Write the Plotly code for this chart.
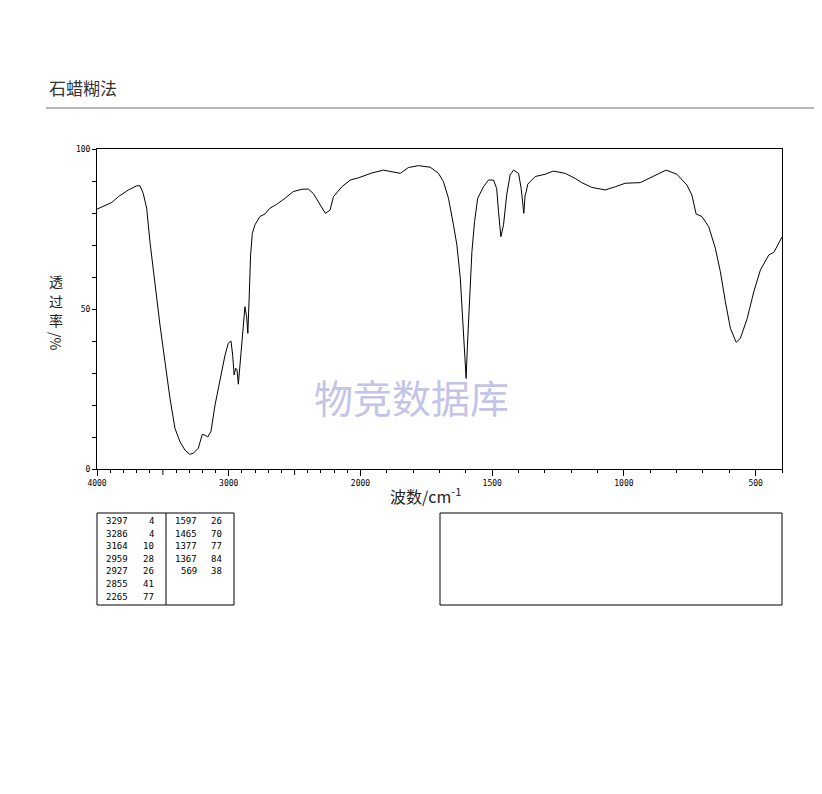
import plotly.graph_objects as go

# ---- data -------------------------------------------------------------
wavenumber = [4000, 3960, 3914, 3888, 3838, 3800, 3762, 3699, 3674, 3649, 3623, 3598, 3560, 3522,
              3484, 3446, 3408, 3370, 3332, 3297, 3269, 3231, 3201, 3180, 3160, 3135, 3104, 3066,
              3028, 3003, 2983, 2970, 2959, 2947, 2937, 2927, 2912, 2897, 2877, 2864, 2855, 2844,
              2834, 2821, 2801, 2763, 2725, 2687, 2636, 2573, 2510, 2446, 2396, 2358, 2307, 2266,
              2231, 2205, 2141, 2078, 2015, 1957, 1913, 1875, 1849, 1818, 1780, 1735, 1704, 1685,
              1666, 1647, 1634, 1621, 1613, 1605, 1599, 1594, 1586, 1577, 1567, 1555, 1533, 1514,
              1495, 1483, 1476, 1467, 1457, 1445, 1432, 1419, 1400, 1390, 1380, 1375, 1371, 1365,
              1337, 1299, 1268, 1223, 1185, 1160, 1122, 1071, 1033, 995, 938, 881, 840, 799, 761,
              742, 726, 704, 678, 653, 634, 615, 596, 574, 558, 532, 507, 482, 450, 431, 415, 400]
transmittance = [81.2, 82.0, 83.0, 83.3, 85.1, 86.2, 87.2, 88.5, 88.5, 86.1, 81.5, 71.0, 57.5, 45.0,
                 33.5, 22.1, 12.7, 8.5, 5.9, 4.6, 4.9, 6.5, 10.8, 10.6, 10.0, 11.7, 20.0, 28.3,
                 35.6, 39.3, 40.0, 35.6, 29.4, 31.5, 31.0, 26.5, 33.5, 42.9, 50.7, 47.6, 42.4, 54.4,
                 66.9, 73.6, 76.3, 78.9, 79.7, 81.5, 82.7, 84.6, 86.7, 87.4, 87.5, 86.1, 82.5, 79.9,
                 80.9, 85.1, 88.2, 90.3, 91.0, 92.5, 93.4, 92.7, 92.4, 94.2, 94.8, 94.3, 92.4, 89.8,
                 84.6, 76.3, 70.0, 59.6, 49.2, 36.7, 28.3, 38.7, 54.4, 67.9, 77.3, 84.6, 88.2, 90.3,
                 90.3, 87.7, 80.4, 72.6, 76.3, 85.6, 91.9, 93.4, 92.4, 87.7, 79.9, 85.6, 86.6, 89.0,
                 91.4, 92.1, 93.1, 92.4, 90.8, 89.5, 88.0, 87.2, 88.2, 89.3, 89.5, 91.9, 93.4, 92.1, 88.75,
                 85.6, 79.7, 78.9, 75.7, 69.0, 61.7, 52.3, 44.0, 39.6, 40.8, 47.1, 55.4, 62.2, 66.9, 67.7, 70.0, 72.5]

x_label_ticks = [4000, 3000, 2000, 1500, 1000, 500]
x_label_text = ["4000", "3000", "2000", "1500", "1000", "500"]
x_unlabeled_major = [3500, 2500]
y_label_ticks = [0, 50, 100]
y_label_text = ["0", "50", "100"]
y_minor_ticks = [10, 20, 30, 40, 60, 70, 80, 90]

peak_wn_left = [3297, 3286, 3164, 2959, 2927, 2855, 2265]
peak_t_left = [4, 4, 10, 28, 26, 41, 77]
peak_wn_right = [1597, 1465, 1377, 1367, 569]
peak_t_right = [26, 70, 77, 84, 38]

title_text = "石蜡糊法"
x_title = "波数/cm<sup>-1</sup>"
y_title_chars = ["透", "过", "率"]
y_title_unit = "/%"
watermark = "物竞数据库"


# IR spectra use a doubled scale above 2000 cm-1 (split axis compression)
def axis_u(w):
    return w if w <= 2000 else 2000 + (w - 2000) / 2.0


u_vals = [axis_u(w) for w in wavenumber]
minor_x = [axis_u(w) for w in range(4000, 399, -100) if w % 500 != 0]

# ---- figure (page body adds an 8px margin) -----------------------------
OFF = 8
W, H = 822 - OFF, 794 - OFF
L, R, T, B = 97, 782, 149, 469  # plot box in reference page pixels


def px(x):
    return (x - L) / (R - L)


def py(y):
    return (B - y) / (B - T)


fig = go.Figure()
fig.add_trace(go.Scatter(x=u_vals, y=transmittance, mode="lines",
                         line=dict(color="black", width=1), hoverinfo="skip",
                         showlegend=False))

tickfont = dict(family="DejaVu Sans Mono", size=8, color="black")
fig.update_xaxes(range=[axis_u(4000), axis_u(400)], showline=True, linecolor="black",
                 linewidth=1, mirror=True, showgrid=False, zeroline=False,
                 tickmode="array", tickvals=[axis_u(w) for w in x_label_ticks],
                 ticktext=x_label_text, ticks="outside", ticklen=6, tickcolor="black",
                 tickwidth=1, tickfont=tickfont,
                 minor=dict(tickmode="array", tickvals=minor_x, ticks="outside",
                            ticklen=3, tickcolor="black", tickwidth=1))
fig.update_yaxes(range=[0, 100], showline=True, linecolor="black", linewidth=1,
                 mirror=True, showgrid=False, zeroline=False, tickmode="array",
                 tickvals=y_label_ticks, ticktext=y_label_text, ticks="outside", ticklen=4,
                 tickcolor="black", tickwidth=1, tickfont=tickfont,
                 minor=dict(tickmode="array", tickvals=y_minor_ticks, ticks="outside",
                            ticklen=4, tickcolor="black", tickwidth=1))

shapes = []
annotations = []

# longer unlabeled major ticks at 3500 and 2500
for w in x_unlabeled_major:
    shapes.append(dict(type="line", xref="x", yref="paper", x0=axis_u(w), x1=axis_u(w),
                       y0=0, y1=py(469 + 6), line=dict(color="black", width=1)))

# header line
shapes.append(dict(type="line", xref="paper", yref="paper", x0=px(46), x1=px(822),
                   y0=py(108), y1=py(108), line=dict(color="#a0a0a0", width=1.5)))
annotations.append(dict(text=title_text, xref="paper", yref="paper", x=px(47), y=py(88),
                        xanchor="left", yanchor="middle", showarrow=False,
                        font=dict(family="Noto Sans CJK SC", size=17, color="#333333")))

# axis titles
annotations.append(dict(text=x_title, xref="paper", yref="paper", x=px(425), y=py(495),
                        xanchor="center", yanchor="middle", showarrow=False,
                        font=dict(family="Noto Sans CJK SC", size=16, color="#222222")))
for ch, yy in zip(y_title_chars, [281, 300.5, 320]):
    annotations.append(dict(text=ch, xref="paper", yref="paper", x=px(56), y=py(yy),
                            xanchor="center", yanchor="middle", showarrow=False,
                            font=dict(family="Noto Sans CJK SC", size=14, color="#222222")))
annotations.append(dict(text=y_title_unit, xref="paper", yref="paper", x=px(56), y=py(341),
                        xanchor="center", yanchor="middle", showarrow=False, textangle=90,
                        font=dict(family="Noto Sans CJK SC", size=14, color="#222222")))

# watermark
annotations.append(dict(text=watermark, xref="paper", yref="paper", x=px(411), y=py(396),
                        xanchor="center", yanchor="middle", showarrow=False,
                        font=dict(family="Noto Sans CJK SC", size=39, color="rgb(196,196,232)")))

# peak tables
shapes.append(dict(type="rect", xref="paper", yref="paper", x0=px(97), x1=px(234),
                   y0=py(513), y1=py(605), line=dict(color="black", width=1)))
shapes.append(dict(type="line", xref="paper", yref="paper", x0=px(166), x1=px(166),
                   y0=py(513), y1=py(605), line=dict(color="black", width=1)))
shapes.append(dict(type="rect", xref="paper", yref="paper", x0=px(440), x1=px(782),
                   y0=py(513), y1=py(605), line=dict(color="black", width=1)))

tfont = dict(family="DejaVu Sans Mono", size=9, color="black")
row0, dy = 521, 12.6
for i, (w, t) in enumerate(zip(peak_wn_left, peak_t_left)):
    yy = py(row0 + i * dy)
    annotations.append(dict(text=str(w), xref="paper", yref="paper", x=px(130), y=yy,
                            xanchor="right", yanchor="middle", showarrow=False, font=tfont))
    annotations.append(dict(text=str(t), xref="paper", yref="paper", x=px(156), y=yy,
                            xanchor="right", yanchor="middle", showarrow=False, font=tfont))
for i, (w, t) in enumerate(zip(peak_wn_right, peak_t_right)):
    yy = py(row0 + i * dy)
    annotations.append(dict(text=str(w), xref="paper", yref="paper", x=px(199), y=yy,
                            xanchor="right", yanchor="middle", showarrow=False, font=tfont))
    annotations.append(dict(text=str(t), xref="paper", yref="paper", x=px(224), y=yy,
                            xanchor="right", yanchor="middle", showarrow=False, font=tfont))

fig.update_layout(width=W, height=H,
                  margin=dict(l=L - OFF, r=(822 - OFF) - (R - OFF), t=T - OFF,
                              b=(794 - OFF) - (B - OFF), pad=0),
                  plot_bgcolor="white", paper_bgcolor="white", shapes=shapes,
                  annotations=annotations, showlegend=False)

fig.write_html("out.html")
